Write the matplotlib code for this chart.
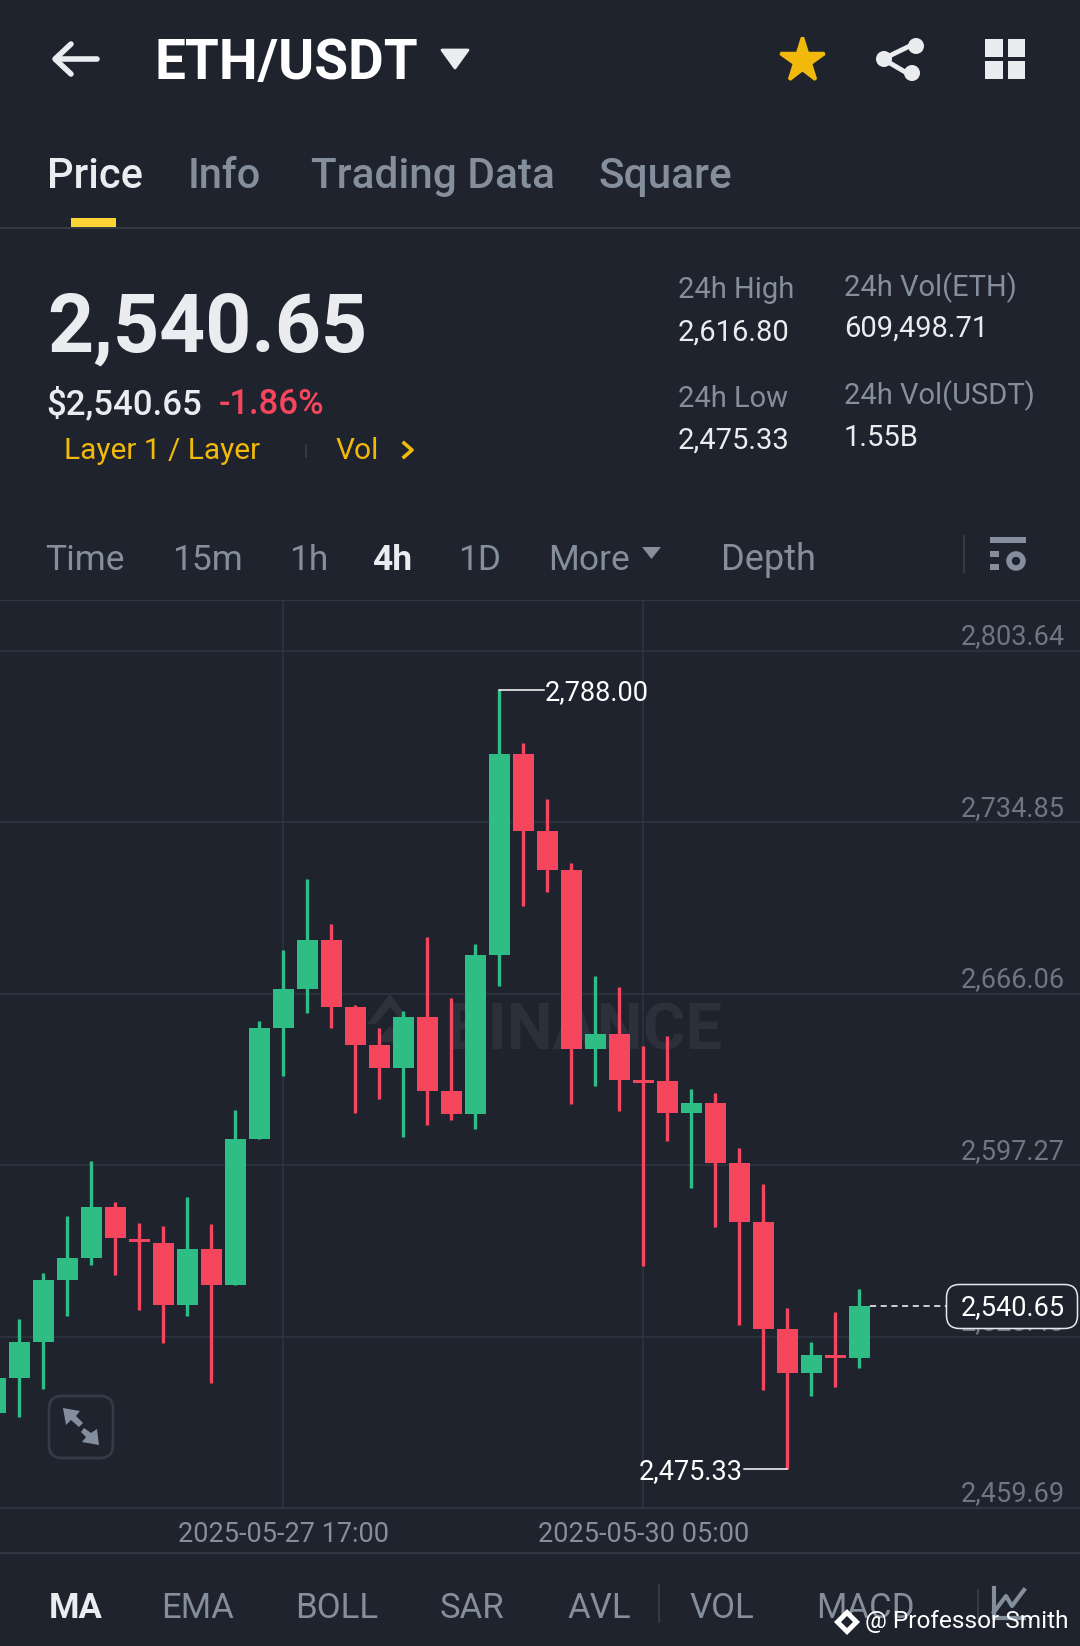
import matplotlib
matplotlib.use("Agg")
import matplotlib.pyplot as plt
from matplotlib.patches import Circle, FancyBboxPatch, Polygon, Rectangle

plt.rcParams['font.family'] = ['Roboto', 'DejaVu Sans']

# 4h candles, oldest first
opens = [2497.94, 2511.76, 2526.50, 2551.15, 2560.14, 2580.64, 2567.74, 2565.90, 2541.25, 2563.59,
         2549.31, 2607.60, 2652.52, 2667.95, 2687.53, 2660.81, 2645.38, 2636.39, 2656.89, 2626.95,
         2617.73, 2681.77, 2762.40, 2731.30, 2715.87, 2643.76, 2649.98, 2631.55, 2631.09, 2618.42,
         2622.11, 2598.15, 2574.42, 2531.34, 2514.06, 2520.98, 2519.82]
closes = [2511.76, 2526.50, 2551.15, 2560.14, 2580.64, 2568.20, 2566.36, 2541.25, 2563.59, 2549.31,
          2607.60, 2652.52, 2667.95, 2687.53, 2660.81, 2645.38, 2636.39, 2656.89, 2626.95, 2617.73,
          2681.77, 2762.40, 2731.30, 2715.87, 2643.76, 2649.98, 2631.55, 2630.17, 2618.42, 2622.11,
          2598.15, 2574.42, 2531.34, 2514.06, 2521.21, 2519.82, 2540.65]
highs = [2511.76, 2535.49, 2554.15, 2576.96, 2598.84, 2582.48, 2574.19, 2573.04, 2584.56, 2573.50,
         2619.34, 2655.05, 2683.62, 2712.18, 2693.98, 2661.73, 2652.29, 2658.97, 2688.92, 2664.27,
         2686.15, 2788.00, 2766.78, 2744.20, 2718.40, 2673.25, 2668.87, 2645.15, 2649.06, 2627.87,
         2626.26, 2604.14, 2589.86, 2539.87, 2526.50, 2538.48, 2547.70]
lows = [2497.94, 2496.33, 2507.61, 2536.87, 2557.14, 2553.23, 2539.18, 2526.04, 2536.64, 2509.69,
        2549.08, 2607.60, 2633.17, 2658.28, 2652.29, 2618.42, 2623.95, 2608.52, 2613.35, 2615.43,
        2611.97, 2669.10, 2701.13, 2706.88, 2621.88, 2629.02, 2619.11, 2556.91, 2606.90, 2588.24,
        2572.58, 2533.19, 2507.15, 2475.33, 2504.62, 2508.08, 2515.91]
price_ticks = [2803.64, 2734.85, 2666.06, 2597.27, 2528.48, 2459.69]
time_ticks = [12, 27]
time_labels = ['2025-05-27 17:00', '2025-05-30 05:00']
last_price = 2540.65
high_price = 2788.00
low_price = 2475.33

BG = '#1E232D'
GRID = '#303641'
GREEN = '#2EBD85'
RED = '#F6465D'
YELLOW = '#F0B90B'
GREY = '#848E9C'
AXIS_GREY = '#6F7682'
LIGHT = '#EAECEF'

W, H = 1080, 1646
fig = plt.figure(figsize=(W / 100, H / 100), dpi=100, facecolor=BG)

# page chrome, in pixels
ui = fig.add_axes([0, 0, 1, 1], zorder=1)
ui.set_xlim(0, W)
ui.set_ylim(H, 0)
ui.axis('off')
ui.patch.set_alpha(0)


def label(x, y, s, size, color=GREY, weight='normal', ha='left'):
    return ui.text(x, y, s, fontsize=size, color=color, fontweight=weight, ha=ha, va='baseline')


# chart itself
ax = fig.add_axes([0, (H - 1508) / H, 1, (1508 - 600) / H], zorder=0)
ax.set_facecolor(BG)
ax.set_xlim(0.19, 45.19)
ax.set_ylim(2459.69, 2824.11)
for s in ax.spines.values():
    s.set_visible(False)
ax.set_xticks(time_ticks)
ax.set_xticklabels(time_labels)
ax.set_yticks(price_ticks)
ax.tick_params(axis='both', length=0, labelleft=False, labelbottom=False)
ax.grid(True, color=GRID, lw=1.1)
ax.set_axisbelow(True)

# watermark goes under the candles
ax.text(585, 1050, 'BINANCE', transform=ui.transData, fontsize=47, fontweight='bold',
        color='#2B303B', ha='center', va='baseline', zorder=1.5)
ax.add_patch(Polygon([(367, 1024), (390, 994), (412, 1024), (404, 1024), (390, 1007), (376, 1024)],
                     transform=ui.transData, fc='#2D323D', ec='none', zorder=1.5))
ax.add_patch(Polygon([(376, 1042), (390, 1026), (404, 1042)], transform=ui.transData,
                     fc='#2D323D', ec='none', zorder=1.5))

xs = list(range(len(opens)))
colors = [GREEN if c >= o else RED for o, c in zip(opens, closes)]
ax.vlines(xs, lows, highs, colors=colors, lw=2.4, zorder=3)
ax.bar(xs, [abs(c - o) for o, c in zip(opens, closes)], bottom=[min(o, c) for o, c in zip(opens, closes)],
       width=0.875, color=colors, zorder=4)

# high / low markers
ax.plot([21, 22.85], [high_price, high_price], color='white', lw=1.1, zorder=5)
ax.annotate(f'{high_price:,.2f}', (22.9, high_price), xytext=(0, -3), textcoords='offset pixels', color='white',
            fontsize=19.5, va='center', ha='left', zorder=6)
ax.plot([33, 31.2], [low_price, low_price], color='white', lw=1.1, zorder=5)
ax.annotate(f'{low_price:,.2f}', (31.13, low_price), xytext=(0, -3), textcoords='offset pixels', color='white',
            fontsize=19.5, va='center', ha='right', zorder=6)

# price axis labels sit above their gridlines
for p in price_ticks:
    ui.annotate(f'{p:,.2f}', (1, p), xycoords=ax.get_yaxis_transform(),
                xytext=(-15, 14), textcoords='offset pixels', ha='right', va='center', color=AXIS_GREY,
                fontsize=19.5, annotation_clip=False)

# last price line and pill
ax.plot([36.45, 39.6], [last_price, last_price], color='white', lw=1.1, dashes=(4, 3), zorder=5)
ui.add_patch(FancyBboxPatch((946.5, 1284.5), 131, 44, boxstyle='round,pad=0,rounding_size=13', fc=BG, ec='#E6E8EC',
                            lw=1.1, zorder=4))
ui.text(1065, 1308, f'{last_price:,.2f}', color='white', fontsize=19.5, ha='right', va='center', zorder=5)

# time labels
for t, s in zip(time_ticks, time_labels):
    ui.annotate(s, (t, 0), xycoords=ax.get_xaxis_transform(), xytext=(0, -26), textcoords='offset pixels',
                ha='center', va='center', color=GREY, fontsize=19.5, annotation_clip=False)

# frame lines
for yy, lw in [(228, 1.2), (600, 1.0), (1508, 1.3), (1553, 1.6)]:
    ui.plot([0, W], [yy, yy], color=GRID if yy != 228 else '#3A404B', lw=lw)
ui.add_patch(Rectangle((71, 218), 45, 9, fc='#FCD535', ec='none', zorder=3))

# header
ui.plot([59, 97], [59, 59], color=LIGHT, lw=4, solid_capstyle='round')
ui.plot([71, 55, 71], [44, 59, 74], color=LIGHT, lw=4, solid_capstyle='round', solid_joinstyle='round')
label(155, 79, 'ETH/USDT', 39.5, 'white', 'bold')
ui.add_patch(Polygon([(442, 50), (468, 50), (455, 68)], fc=LIGHT, ec=LIGHT, lw=2, joinstyle='round'))
ui.plot(802, 60, marker='*', ms=33, color=YELLOW, mec=YELLOW, mew=2.5, mfc=YELLOW)
for a, b in [((916, 43), (883, 59)), ((883, 59), (912, 76))]:
    ui.plot([a[0], b[0]], [a[1], b[1]], color=LIGHT, lw=3.5)
for c in [(916, 46), (884, 59), (912, 73)]:
    ui.add_patch(Circle(c, 8, fc=LIGHT, ec='none'))
for x0, y0 in [(985, 39), (1007.5, 39), (985, 61), (1007.5, 61)]:
    ui.add_patch(Rectangle((x0, y0), 17.5, 17.5, fc=LIGHT, ec='none'))

# tabs
label(47, 188, 'Price', 30, LIGHT, 'medium')
label(188, 188, 'Info', 30, GREY, 'medium')
label(311, 188, 'Trading Data', 30.5, GREY, 'medium')
label(599, 188, 'Square', 30.5, GREY, 'medium')

# price block
label(47, 352, '2,540.65', 58, LIGHT, 'bold')
label(46, 414, '$2,540.65', 25, LIGHT, 'medium')
label(219, 414, '-1.86%', 25, RED, 'medium')
label(64, 459, 'Layer 1 / Layer', 21.5, YELLOW)
ui.plot([306, 306], [445, 457], color='#3A404B', lw=1.2)
label(336, 459, 'Vol', 21.5, YELLOW)
ui.plot([404, 412, 404], [443, 450, 457], color=YELLOW, lw=2.6)

# 24h stats
label(678, 298, '24h High', 21)
label(678, 341, '2,616.80', 21, LIGHT)
label(678, 407, '24h Low', 21)
label(678, 449, '2,475.33', 21, LIGHT)
label(844, 296, '24h Vol(ETH)', 21)
label(844, 337, '609,498.71', 21, LIGHT)
label(844, 404, '24h Vol(USDT)', 21)
label(844, 446, '1.55B', 21, LIGHT)

# interval row
label(45, 570, 'Time', 25.5)
label(172, 570, '15m', 25.5)
label(289, 570, '1h', 25.5)
label(372, 570, '4h', 25.5, LIGHT, 'bold')
label(458, 570, '1D', 25.5)
label(548, 570, 'More', 25.5)
ui.add_patch(Polygon([(642, 547), (661, 547), (651.5, 559)], fc=GREY, ec='none'))
label(721, 570, 'Depth', 26)
ui.plot([964, 964], [536, 572], color='#3A404B', lw=1.2)
ui.add_patch(Rectangle((990, 537), 36, 6, fc=GREY, ec='none'))
ui.add_patch(Rectangle((990, 551), 9, 6, fc=GREY, ec='none'))
ui.add_patch(Rectangle((990, 564), 9, 6, fc=GREY, ec='none'))
ui.add_patch(Circle((1016, 561), 7, fc=BG, ec=GREY, lw=4))

# expand button
ui.add_patch(FancyBboxPatch((49, 1396), 64, 62, boxstyle='round,pad=0,rounding_size=13', fc='none', ec='#353B46', lw=2))
ui.add_patch(Polygon([(63, 1408), (80, 1411), (76, 1416), (83, 1423), (79, 1427), (71, 1420), (66, 1425)], fc=GREY, ec='none'))
ui.add_patch(Polygon([(99, 1445), (82, 1442), (86, 1437), (81, 1432), (84, 1428), (91, 1433), (97, 1429)], fc=GREY, ec='none'))

# indicator row
label(49, 1618, 'MA', 25, LIGHT, 'bold')
label(161, 1618, 'EMA', 25)
label(295, 1618, 'BOLL', 25)
label(440, 1618, 'SAR', 25)
label(567, 1618, 'AVL', 25)
ui.plot([659, 659], [1585, 1622], color='#3A404B', lw=1.2)
label(690, 1618, 'VOL', 25)
label(816, 1618, 'MACD', 25)
ui.plot([978, 978], [1590, 1622], color='#3A404B', lw=1.2)
ui.plot([994, 994, 1024], [1588, 1618, 1618], color=GREY, lw=3)
ui.plot([994, 1006, 1012, 1024], [1612, 1596, 1606, 1590], color=GREY, lw=3)

# screenshot credit on top of the row
ui.add_patch(Polygon([(847, 1609), (860, 1622), (847, 1635), (834, 1622)], fc='white', ec='none', zorder=6))
ui.add_patch(Polygon([(847, 1616), (853, 1622), (847, 1628), (841, 1622)], fc=BG, ec='none', zorder=6))
ui.text(865, 1628, '@ Professor Smith', color='white', fontsize=17.6, va='baseline', zorder=7)

fig.savefig('out.png', dpi=100, facecolor=BG)
